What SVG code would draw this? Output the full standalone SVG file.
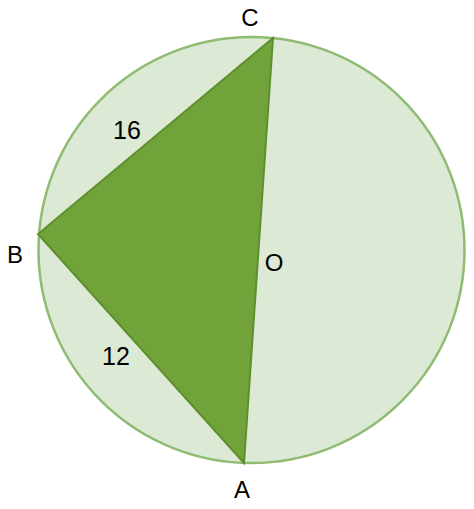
<svg xmlns="http://www.w3.org/2000/svg" width="474" height="509" viewBox="0 0 474 509">
<style>
.lbl{font-family:"Liberation Sans",Arial,sans-serif;font-size:24px;fill:#000;}
.num{font-size:25px;}
</style>
<rect width="474" height="509" fill="#fff"/>
<g id="circle"><circle cx="251.5" cy="250" r="213" fill="#dbe9d5" stroke="#8fbb72" stroke-width="2.5"/></g>
<g id="triangle"><polygon points="273,38 38,234 244,463" fill="#72a33a" stroke="#5e8f2e" stroke-width="2"/></g>
<g id="labels">
<text class="lbl" x="250" y="26" text-anchor="middle">C</text>
<text class="lbl" x="15" y="263" text-anchor="middle">B</text>
<text class="lbl" x="242" y="498" text-anchor="middle">A</text>
<text class="lbl" x="274" y="271" text-anchor="middle">O</text>
<text class="lbl num" x="127" y="139" text-anchor="middle">16</text>
<text class="lbl num" x="116" y="365" text-anchor="middle">12</text>
</g>
</svg>
